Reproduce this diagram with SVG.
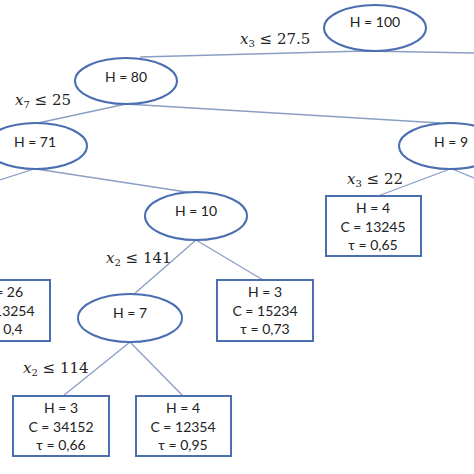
<svg xmlns="http://www.w3.org/2000/svg" width="474" height="474" viewBox="0 0 474 474">
<style>
.n ellipse,.n rect{fill:#fff;stroke:#4a6eb0;stroke-width:2}
.n text{font-family:Lato,"Open Sans",sans-serif;font-size:14px;fill:#222;text-anchor:middle}
.c line{stroke:#8a9ec4;stroke-width:1.3}
.l text{font-family:"DejaVu Serif","Liberation Serif",serif;font-size:15px;fill:#222}
.l tspan.i{font-style:italic}
</style>
<rect width="474" height="474" fill="#fff"/>
<g id="connectors" class="c">
<line x1="365" y1="51" x2="140" y2="57"/>
<line x1="365" y1="51" x2="474" y2="53"/>
<line x1="126" y1="104" x2="38" y2="123"/>
<line x1="126" y1="104" x2="440" y2="123"/>
<line x1="34" y1="169" x2="0" y2="180"/>
<line x1="36" y1="169" x2="193" y2="193"/>
<line x1="450" y1="169" x2="378" y2="196"/>
<line x1="452" y1="169" x2="474" y2="178"/>
<line x1="196" y1="240" x2="133" y2="295"/>
<line x1="196" y1="240" x2="263" y2="280"/>
<line x1="130" y1="342" x2="63" y2="396"/>
<line x1="130" y1="342" x2="183" y2="396"/>
</g>
<g class="l">
<text id="lbl1" x="240" y="44"><tspan class="i">x</tspan><tspan font-size="10" dy="3">3</tspan><tspan dy="-3"> ≤ 27.5</tspan></text>
<text id="lbl2" x="15" y="105"><tspan class="i">x</tspan><tspan font-size="10" dy="3">7</tspan><tspan dy="-3"> ≤ 25</tspan></text>
<text id="lbl3" x="347" y="184"><tspan class="i">x</tspan><tspan font-size="10" dy="3">3</tspan><tspan dy="-3"> ≤ 22</tspan></text>
<text id="lbl4" x="106" y="263"><tspan class="i">x</tspan><tspan font-size="10" dy="3">2</tspan><tspan dy="-3"> ≤ 141</tspan></text>
<text id="lbl5" x="23" y="373"><tspan class="i">x</tspan><tspan font-size="10" dy="3">2</tspan><tspan dy="-3"> ≤ 114</tspan></text>
</g>
<g id="n100" class="n"><ellipse cx="375" cy="28" rx="51" ry="23"/><text x="375" y="27">H = 100</text></g>
<g id="n80" class="n"><ellipse cx="126" cy="81" rx="51" ry="23"/><text x="126" y="82">H = 80</text></g>
<g id="n71" class="n"><ellipse cx="36" cy="146" rx="51" ry="23"/><text x="35" y="147">H = 71</text></g>
<g id="n9" class="n"><ellipse cx="450" cy="146" rx="51" ry="23"/><text x="451" y="147">H = 9</text></g>
<g id="n10" class="n"><ellipse cx="196" cy="216" rx="51" ry="24"/><text x="196" y="216">H = 10</text></g>
<g id="n7" class="n"><ellipse cx="130" cy="318" rx="52" ry="24"/><text x="130" y="318">H = 7</text></g>
<g id="leaf4a" class="n"><rect x="326" y="196" width="95" height="60"/><text x="373" y="213">H = 4</text><text x="373" y="232">C = 13245</text><text x="373" y="250">τ = 0,65</text></g>
<g id="leaf26" class="n"><rect x="-45" y="280" width="95" height="61"/><text x="2" y="297">H = 26</text><text x="2" y="316">C = 13254</text><text x="2" y="334">τ = 0,4</text></g>
<g id="leaf3a" class="n"><rect x="217" y="280" width="96" height="61"/><text x="265" y="297">H = 3</text><text x="265" y="316">C = 15234</text><text x="265" y="334">τ = 0,73</text></g>
<g id="leaf3b" class="n"><rect x="13" y="396" width="96" height="60"/><text x="61" y="413">H = 3</text><text x="61" y="432">C = 34152</text><text x="61" y="450">τ = 0,66</text></g>
<g id="leaf4b" class="n"><rect x="136" y="396" width="95" height="60"/><text x="183" y="413">H = 4</text><text x="183" y="432">C = 12354</text><text x="183" y="450">τ = 0,95</text></g>
</svg>
